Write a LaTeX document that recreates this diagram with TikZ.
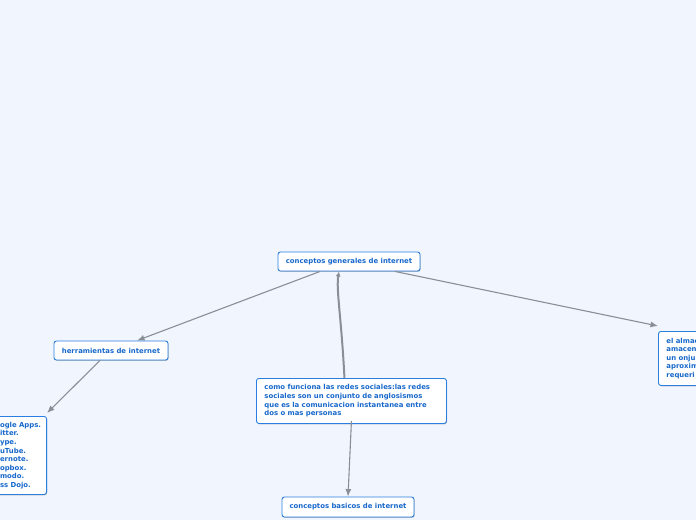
\documentclass[tikz,border=0pt]{standalone}
\usepackage{fontspec}
\setmainfont{DejaVu Sans}
\usetikzlibrary{arrows.meta,shadows,calc}
\definecolor{bgcol}{HTML}{F1F5FD}
\definecolor{bordercol}{HTML}{2A7FE0}
\definecolor{textcol}{HTML}{1768CC}
\definecolor{linecol}{HTML}{8A8E96}
\tikzset{
  topic/.style={draw=bordercol, line width=0.9pt, rounded corners=2.5pt, fill=white,
    font=\fontsize{6.9}{8.6}\selectfont\bfseries, text=textcol, inner ysep=0pt,
    drop shadow={shadow xshift=0.6pt, shadow yshift=-0.8pt, opacity=0.25, fill=black}},
  conn/.style={draw=linecol, line width=1.1pt, -{Latex[length=7.5pt,width=6pt]}},
  thickconn/.style={draw=linecol, line width=2pt, -{Latex[length=5pt,width=5pt]}}
}
\begin{document}
\begin{tikzpicture}[x=1pt,y=-1pt]
\path[use as bounding box] (0,0) rectangle (696,520);
\fill[bgcol] (0,0) rectangle (696,520);
\clip (0,0) rectangle (696,520);

\node[topic, minimum width=142pt, minimum height=19pt, inner xsep=0pt] (central) at (349,261.5) {conceptos generales de internet};
\node[topic, minimum width=114pt, minimum height=19pt, inner xsep=0pt] (herr) at (111,350.5) {herramientas de internet};
\node[topic, anchor=north east, minimum height=78pt, text width=42.5pt, inner xsep=4pt, align=left] (tools) at (47,416)
  {ogle Apps.\\itter.\\ype.\\uTube.\\ernote.\\opbox.\\modo.\\ss Dojo.};
\node[topic, anchor=north west, minimum height=54pt, text width=60pt, inner xsep=8pt, align=left] (almac) at (658,331)
  {el almac\\amacen\\un onju\\aproxim\\requeri};
\node[topic, anchor=north west, minimum height=45pt, text width=174pt, inner xsep=8pt, align=left] (social) at (256,378)
  {como funciona las redes sociales:las redes\\sociales son un conjunto de anglosismos\\que es la comunicacion instantanea entre\\dos o mas personas};
\node[topic, minimum width=132pt, minimum height=20pt, inner xsep=0pt] (basicos) at (348,507) {conceptos basicos de internet};

\draw[conn] ([xshift=-29pt]central.south) -- ([xshift=26pt]herr.north);
\draw[conn] ([xshift=-11pt]herr.south) -- ([yshift=3pt]tools.north east);
\draw[conn] ([xshift=46pt]central.south) -- ([yshift=5pt]almac.north west);
\draw[thickconn] ([xshift=-7pt]social.north) .. controls +(-3,-60) and +(-3,18) .. ([xshift=-10pt]central.south);
\draw[conn] ([yshift=3pt]social.south) -- (basicos.north);
\end{tikzpicture}
\end{document}
